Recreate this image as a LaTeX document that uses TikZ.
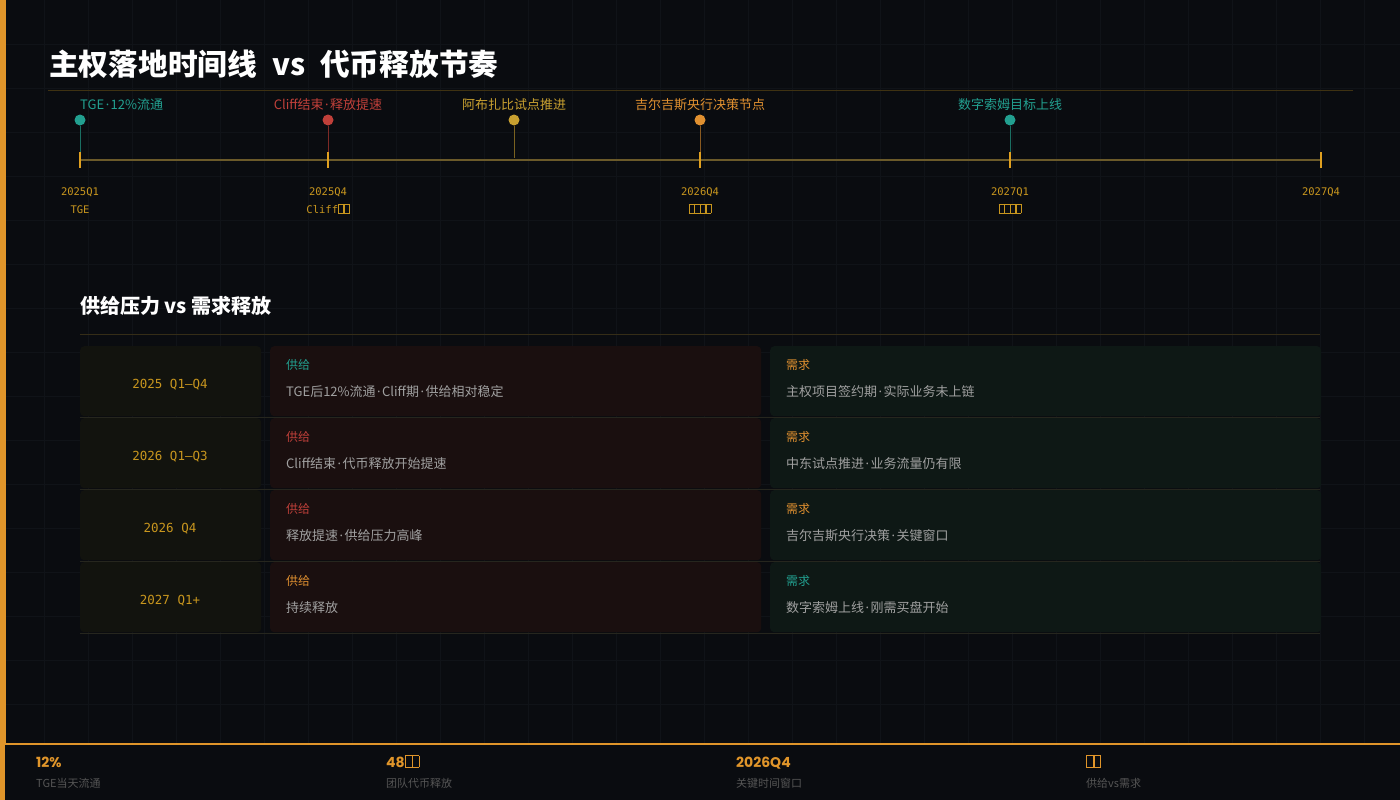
\documentclass[tikz,border=0pt]{standalone}
\usepackage{fontspec}
\setmainfont{Noto Sans CJK SC}
\newfontfamily\monof{DejaVu Sans Mono}
\newfontfamily\popf{Poppins}
\newfontfamily\latf{Noto Sans}
\definecolor{bgc}{HTML}{0A0C10}
\definecolor{gridc}{HTML}{101318}
\definecolor{orangec}{HTML}{E0952A}
\definecolor{axisc}{HTML}{6B5A2A}
\definecolor{tickc}{HTML}{E0A020}
\definecolor{tealc}{HTML}{22A090}
\definecolor{tealdk}{HTML}{1A6F62}
\definecolor{redc}{HTML}{C0403A}
\definecolor{reddk}{HTML}{7E2A26}
\definecolor{goldc}{HTML}{C8A030}
\definecolor{golddk}{HTML}{7A6220}
\definecolor{orgev}{HTML}{E09030}
\definecolor{orgdk}{HTML}{8A5A20}
\definecolor{monoc}{HTML}{C8961E}
\definecolor{titleline}{HTML}{3F3212}
\definecolor{sepc}{HTML}{26261E}
\definecolor{cellA}{HTML}{12130E}
\definecolor{cellB}{HTML}{1A0F0F}
\definecolor{cellC}{HTML}{0E1815}
\definecolor{descc}{HTML}{A0A0A0}
\definecolor{footlab}{HTML}{555555}
\newcommand\tofu{{\setlength\fboxsep{0pt}\setlength\fboxrule{0.5pt}\fbox{\rule{0pt}{0.8em}\hspace{0.45em}}}}
\newcommand\mdot{\hspace{1.5pt}{\latf ·}\hspace{1.5pt}}
\begin{document}
\begin{tikzpicture}[x=1pt,y=-1pt,
  evdot/.style={circle,inner sep=0,minimum size=11,draw=none},
  evlab/.style={anchor=base,inner sep=0,font=\fontsize{13}{13}\selectfont},
  ticknode/.style={rectangle,inner sep=0,minimum width=2,minimum height=16,fill=tickc,draw=none},
  stemline/.style={line width=1},
  tlab/.style={anchor=base,inner sep=0,text=monoc,font=\monof\fontsize{10.5}{10.5}\selectfont},
  cellbox/.style={rectangle,rounded corners=4,anchor=north west,minimum height=70,inner sep=0,draw=none},
  celltag/.style={anchor=base west,inner sep=0,font=\fontsize{12}{12}\selectfont},
  celldesc/.style={anchor=base west,inner sep=0,text=descc,font=\fontsize{13}{13}\selectfont},
  cellmono/.style={anchor=base,inner sep=0,text=monoc,font=\monof\fontsize{12.5}{12.5}\selectfont},
  sepline/.style={draw=sepc,line width=1},
  footval/.style={anchor=base west,inner sep=0,text=orangec,font=\popf\bfseries\fontsize{14}{14}\selectfont},
  footlabel/.style={anchor=base west,inner sep=0,text=footlab,font=\fontsize{11}{11}\selectfont}
]
\useasboundingbox (0,0) rectangle (1400,800);
\fill[bgc] (0,0) rectangle (1400,800);
% grid
\foreach \gx in {44,88,...,1400} \draw[gridc,line width=0.8] (\gx,0) -- (\gx,800);
\foreach \gy in {44,88,...,800} \draw[gridc,line width=0.8] (0,\gy) -- (1400,\gy);
% left bar
\fill[orangec] (0,0) rectangle (6,800);
% title
\node[anchor=base west,inner sep=0,text=white,font=\bfseries\fontsize{29.7}{29.7}\selectfont] (title) at (49,76) {主权落地时间线\hspace{15.5pt}vs\hspace{14.5pt}代币释放节奏};
\coordinate (tl0) at (48,90);
\coordinate (tl1) at (1353,90);
\draw[titleline,line width=1] (tl0) -- (tl1);
% axis
\coordinate (ax0) at (80,160);
\coordinate (ax1) at (1321,160);
\draw[axisc,line width=2] (ax0) -- (ax1);
\node[ticknode] (k1) at (80,160) {};
\node[ticknode] (k2) at (328,160) {};
\node[ticknode] (k3) at (700,160) {};
\node[ticknode] (k4) at (1010,160) {};
\node[ticknode] (k5) at (1321,160) {};
% events
\node[evdot,fill=tealc] (e1) at (80,120) {};
\node[evdot,fill=redc] (e2) at (328,120) {};
\node[evdot,fill=goldc] (e3) at (514,120) {};
\node[evdot,fill=orgev] (e4) at (700,120) {};
\node[evdot,fill=tealc] (e5) at (1010,120) {};
\coordinate (s3) at (514,158);
\draw[stemline,tealdk] (e1) -- (k1.north);
\draw[stemline,reddk] (e2) -- (k2.north);
\draw[stemline,golddk] (e3) -- (s3);
\draw[stemline,orgdk] (e4) -- (k3.north);
\draw[stemline,tealdk] (e5) -- (k4.north);
\node[evlab,anchor=base west,text=tealc] (l1) at (80,110) {TGE\mdot 12\%流通};
\node[evlab,text=redc] (l2) at (328,110) {Cliff结束\mdot 释放提速};
\node[evlab,text=goldc] (l3) at (514,110) {阿布扎比试点推进};
\node[evlab,text=orgev] (l4) at (700,110) {吉尔吉斯央行决策节点};
\node[evlab,text=tealc] (l5) at (1010,110) {数字索姆目标上线};
% tick labels
\node[tlab] (d1) at (80,195) {2025Q1};
\node[tlab] (d1b) at (80,213) {TGE};
\node[tlab] (d2) at (328,195) {2025Q4};
\node[tlab] (d2b) at (328,213) {Cliff\tofu\tofu};
\node[tlab] (d3) at (700,195) {2026Q4};
\node[tlab] (d3b) at (700,213) {\tofu\tofu\tofu\tofu};
\node[tlab] (d4) at (1010,195) {2027Q1};
\node[tlab] (d4b) at (1010,213) {\tofu\tofu\tofu\tofu};
\node[tlab] (d5) at (1321,195) {2027Q4};
% section title
\node[anchor=base west,inner sep=0,text=white,font=\bfseries\fontsize{20}{20}\selectfont] (sec) at (80,313) {供给压力 vs 需求释放};
\coordinate (sl0) at (80,334);
\coordinate (sl1) at (1320,334);
\draw[sepline,draw=titleline!60!sepc] (sl0) -- (sl1);
% table rows
\foreach \i/\top/\yr/\stc/\st/\dmc/\dm in {
  1/346/{2025 Q1–Q4}/tealc/{TGE后12\%流通\mdot Cliff期\mdot 供给相对稳定}/orgev/{主权项目签约期\mdot 实际业务未上链},
  2/418/{2026 Q1–Q3}/redc/{Cliff结束\mdot 代币释放开始提速}/orgev/{中东试点推进\mdot 业务流量仍有限},
  3/490/{2026 Q4}/redc/{释放提速\mdot 供给压力高峰}/orgev/{吉尔吉斯央行决策\mdot 关键窗口},
  4/562/{2027 Q1+}/orgev/{持续释放}/tealc/{数字索姆上线\mdot 刚需买盘开始}} {
  \node[cellbox,fill=cellA,minimum width=181] (ra\i) at (80,\top) {};
  \node[cellbox,fill=cellB,minimum width=491] (rb\i) at (270,\top) {};
  \node[cellbox,fill=cellC,minimum width=551] (rc\i) at (770,\top) {};
  \node[cellmono] (ty\i) at (170,\top+42.5) {\yr};
  \node[celltag,text=\stc] (tb\i) at (286,\top+23.5) {供给};
  \node[celldesc] (db\i) at (286,\top+50) {\st};
  \node[celltag,text=\dmc] (tc\i) at (786,\top+23.5) {需求};
  \node[celldesc] (dc\i) at (786,\top+50) {\dm};
  \coordinate (sp\i a) at (80,\top+71);
  \coordinate (sp\i b) at (1320,\top+71);
  \draw[sepline] (sp\i a) -- (sp\i b);
}
% footer
\coordinate (f0) at (5,744);
\coordinate (f1) at (1400,744);
\fill[bgc] (5,745) rectangle (1400,800);
\draw[orangec,line width=1.5] (f0) -- (f1);
\node[footval] (fv1) at (36,767) {12\%};
\node[footlabel] (fl1) at (36,787) {TGE当天流通};
\node[footval] (fv2) at (386,767) {48\tofu\tofu};
\node[footlabel] (fl2) at (386,787) {团队代币释放};
\node[footval] (fv3) at (736,767) {2026Q4};
\node[footlabel] (fl3) at (736,787) {关键时间窗口};
\node[footval] (fv4) at (1086,767) {\tofu\tofu};
\node[footlabel] (fl4) at (1086,787) {供给vs需求};
\end{tikzpicture}
\end{document}
